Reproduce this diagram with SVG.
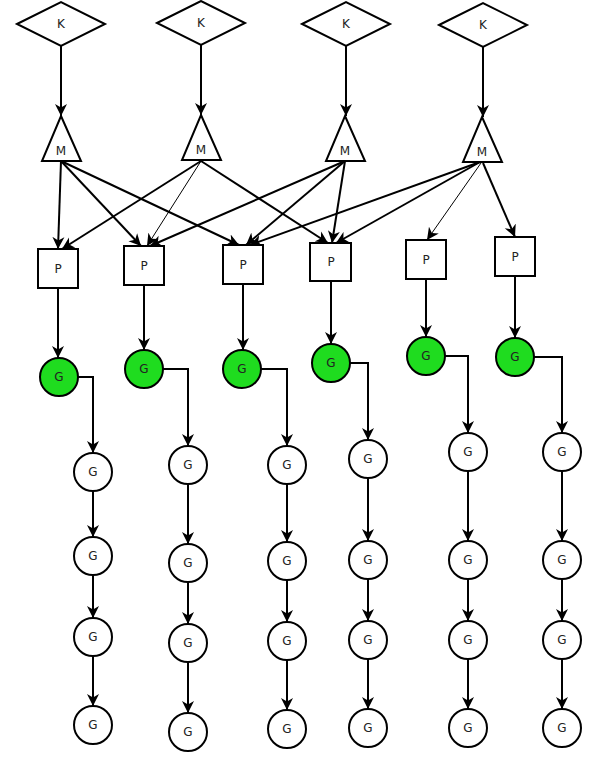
<svg xmlns="http://www.w3.org/2000/svg" width="596" height="757" viewBox="0 0 596 757">
<defs>
<style>
.n{fill:#fff;stroke:#000;stroke-width:2}
.g{fill:#1fdc1f;stroke:#000;stroke-width:2}
.t{font-family:"DejaVu Sans","Liberation Sans",sans-serif;font-size:12px;fill:#222;text-anchor:middle;dominant-baseline:central}
.c{fill:none;stroke:#000;stroke-width:2;marker-end:url(#ah)}
.c1{fill:none;stroke:#000;stroke-width:1;marker-end:url(#ah)}
</style>
<marker id="ah" markerUnits="userSpaceOnUse" markerWidth="13" markerHeight="13" viewBox="0 0 13 13" refX="12" refY="6.5" orient="auto">
<path d="M0,0.5 L12,6.5 L0,12.5 L3.5,6.5 Z" fill="#000"/>
</marker>
</defs>
<rect width="596" height="757" fill="#fff"/>
<g id="connectors">
<path class="c" d="M61,46 V116"/>
<path class="c" d="M201,45 V115"/>
<path class="c" d="M346,46 V116"/>
<path class="c" d="M483,47 V117"/>
<path class="c" d="M61,161 L58,249"/>
<path class="c" d="M61,161 L141,246"/>
<path class="c" d="M61,161 L239,245"/>
<path class="c" d="M201,161 L62,249"/>
<path class="c1" d="M201,161 L147,246"/>
<path class="c" d="M201,161 L328,243"/>
<path class="c" d="M345,161 L150,246"/>
<path class="c" d="M345,161 L246,245"/>
<path class="c" d="M345,161 L332,243"/>
<path class="c" d="M480,162 L250,245"/>
<path class="c" d="M480,162 L336,243"/>
<path class="c1" d="M481,163 L427,240"/>
<path class="c" d="M483,163 L515,237"/>
<path class="c" d="M58,288 V358"/>
<path class="c" d="M144,285 V350"/>
<path class="c" d="M243,284 V350"/>
<path class="c" d="M331,281 V344"/>
<path class="c" d="M426,279 V337"/>
<path class="c" d="M515,276 V338"/>
<path class="c" d="M78,377 H93 V453"/>
<path class="c" d="M163,369 H188 V446"/>
<path class="c" d="M261,369 H287 V446"/>
<path class="c" d="M350,363 H368 V440"/>
<path class="c" d="M445,356 H468 V433"/>
<path class="c" d="M534,357 H562 V433"/>
<path class="c" d="M93,491 V537"/>
<path class="c" d="M93,575 V618"/>
<path class="c" d="M93,656 V706"/>
<path class="c" d="M188,484 V544"/>
<path class="c" d="M188,582 V624"/>
<path class="c" d="M188,662 V713"/>
<path class="c" d="M287,484 V542"/>
<path class="c" d="M287,580 V622"/>
<path class="c" d="M287,660 V710"/>
<path class="c" d="M368,478 V541"/>
<path class="c" d="M368,579 V621"/>
<path class="c" d="M368,659 V709"/>
<path class="c" d="M468,471 V541"/>
<path class="c" d="M468,579 V621"/>
<path class="c" d="M468,659 V709"/>
<path class="c" d="M562,471 V541"/>
<path class="c" d="M562,579 V621"/>
<path class="c" d="M562,659 V709"/>
</g>
<g id="k1"><polygon class="n" points="17,24 61,2 105,24 61,46"/><text class="t" x="61" y="24">K</text></g>
<g id="k2"><polygon class="n" points="157,23 201,1 245,23 201,45"/><text class="t" x="201" y="23">K</text></g>
<g id="k3"><polygon class="n" points="302,24 346,2 390,24 346,46"/><text class="t" x="346" y="24">K</text></g>
<g id="k4"><polygon class="n" points="439,25 483,3 527,25 483,47"/><text class="t" x="483" y="25">K</text></g>
<g id="m1"><polygon class="n" points="61,116 81,161 42,161"/><text class="t" x="61" y="151">M</text></g>
<g id="m2"><polygon class="n" points="201,115 221,160 182,160"/><text class="t" x="201" y="150">M</text></g>
<g id="m3"><polygon class="n" points="345,116 365,161 326,161"/><text class="t" x="345" y="151">M</text></g>
<g id="m4"><polygon class="n" points="482,117 502,162 463,162"/><text class="t" x="482" y="152">M</text></g>
<g id="p1"><rect class="n" x="38" y="249" width="40" height="39"/><text class="t" x="58" y="269">P</text></g>
<g id="p2"><rect class="n" x="124" y="246" width="40" height="39"/><text class="t" x="144" y="266">P</text></g>
<g id="p3"><rect class="n" x="223" y="245" width="40" height="39"/><text class="t" x="243" y="265">P</text></g>
<g id="p4"><rect class="n" x="310" y="243" width="41" height="38"/><text class="t" x="331" y="262">P</text></g>
<g id="p5"><rect class="n" x="406" y="240" width="40" height="39"/><text class="t" x="426" y="260">P</text></g>
<g id="p6"><rect class="n" x="495" y="237" width="40" height="39"/><text class="t" x="515" y="257">P</text></g>
<g id="g1a"><circle class="g" cx="59" cy="377" r="19"/><text class="t" x="59" y="377">G</text></g>
<g id="g2a"><circle class="g" cx="144" cy="369" r="19"/><text class="t" x="144" y="369">G</text></g>
<g id="g3a"><circle class="g" cx="242" cy="369" r="19"/><text class="t" x="242" y="369">G</text></g>
<g id="g4a"><circle class="g" cx="331" cy="363" r="19"/><text class="t" x="331" y="363">G</text></g>
<g id="g5a"><circle class="g" cx="426" cy="356" r="19"/><text class="t" x="426" y="356">G</text></g>
<g id="g6a"><circle class="g" cx="515" cy="357" r="19"/><text class="t" x="515" y="357">G</text></g>
<g id="g1b"><circle class="n" cx="93" cy="472" r="19"/><text class="t" x="93" y="472">G</text></g>
<g id="g1c"><circle class="n" cx="93" cy="556" r="19"/><text class="t" x="93" y="556">G</text></g>
<g id="g1d"><circle class="n" cx="93" cy="637" r="19"/><text class="t" x="93" y="637">G</text></g>
<g id="g1e"><circle class="n" cx="93" cy="725" r="19"/><text class="t" x="93" y="725">G</text></g>
<g id="g2b"><circle class="n" cx="188" cy="465" r="19"/><text class="t" x="188" y="465">G</text></g>
<g id="g2c"><circle class="n" cx="188" cy="563" r="19"/><text class="t" x="188" y="563">G</text></g>
<g id="g2d"><circle class="n" cx="188" cy="643" r="19"/><text class="t" x="188" y="643">G</text></g>
<g id="g2e"><circle class="n" cx="188" cy="732" r="19"/><text class="t" x="188" y="732">G</text></g>
<g id="g3b"><circle class="n" cx="287" cy="465" r="19"/><text class="t" x="287" y="465">G</text></g>
<g id="g3c"><circle class="n" cx="287" cy="561" r="19"/><text class="t" x="287" y="561">G</text></g>
<g id="g3d"><circle class="n" cx="287" cy="641" r="19"/><text class="t" x="287" y="641">G</text></g>
<g id="g3e"><circle class="n" cx="287" cy="729" r="19"/><text class="t" x="287" y="729">G</text></g>
<g id="g4b"><circle class="n" cx="368" cy="459" r="19"/><text class="t" x="368" y="459">G</text></g>
<g id="g4c"><circle class="n" cx="368" cy="560" r="19"/><text class="t" x="368" y="560">G</text></g>
<g id="g4d"><circle class="n" cx="368" cy="640" r="19"/><text class="t" x="368" y="640">G</text></g>
<g id="g4e"><circle class="n" cx="368" cy="728" r="19"/><text class="t" x="368" y="728">G</text></g>
<g id="g5b"><circle class="n" cx="468" cy="452" r="19"/><text class="t" x="468" y="452">G</text></g>
<g id="g5c"><circle class="n" cx="468" cy="560" r="19"/><text class="t" x="468" y="560">G</text></g>
<g id="g5d"><circle class="n" cx="468" cy="640" r="19"/><text class="t" x="468" y="640">G</text></g>
<g id="g5e"><circle class="n" cx="468" cy="728" r="19"/><text class="t" x="468" y="728">G</text></g>
<g id="g6b"><circle class="n" cx="562" cy="452" r="19"/><text class="t" x="562" y="452">G</text></g>
<g id="g6c"><circle class="n" cx="562" cy="560" r="19"/><text class="t" x="562" y="560">G</text></g>
<g id="g6d"><circle class="n" cx="562" cy="640" r="19"/><text class="t" x="562" y="640">G</text></g>
<g id="g6e"><circle class="n" cx="562" cy="728" r="19"/><text class="t" x="562" y="728">G</text></g>
</svg>
